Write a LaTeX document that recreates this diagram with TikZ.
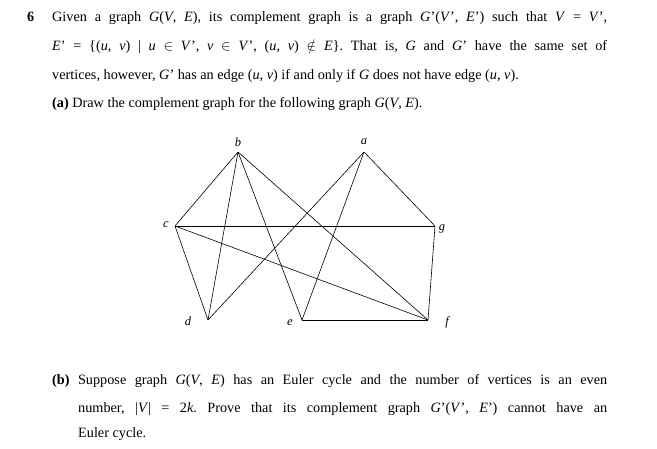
\documentclass[tikz,border=0pt]{standalone}
\usepackage{fontspec}
\setmainfont{Liberation Serif}
\frenchspacing
\begin{document}
\begin{tikzpicture}[x=1bp, y=-1bp, font=\fontsize{14.3}{17}\selectfont,
    vtx/.style={inner sep=0pt, minimum size=0pt},
    lbl/.style={font=\fontsize{12.5}{14}\selectfont\itshape, inner sep=0pt},
    txt/.style={anchor=base west, inner sep=0pt},
    edge/.style={draw, line width=0.6pt}]

    \useasboundingbox (0,0) rectangle (657,449);

    % Question text
    \node[txt] (q0) at (27,22) {\textbf{6}};
    \node[txt] (q1) at (52,22) {\hbox to 555bp{Given a graph \textit{G}(\textit{V}, \textit{E}), its complement graph is a graph \textit{G}'(\textit{V}', \textit{E}') such that \textit{V} = \textit{V}',}};
    \node[txt] (q2) at (52,51) {\hbox to 555bp{\textit{E}' = \{(\textit{u}, \textit{v}) | \textit{u} $\in$ \textit{V}', \textit{v} $\in$ \textit{V}', (\textit{u}, \textit{v}) $\notin$ \textit{E}\}. That is, \textit{G} and \textit{G}' have the same set of}};
    \node[txt] (q3) at (52,80) {vertices, however, \textit{G}' has an edge (\textit{u}, \textit{v}) if and only if \textit{G} does not have edge (\textit{u}, \textit{v}).};
    \node[txt] (q4) at (52,108) {\textbf{(a)} Draw the complement graph for the following graph \textit{G}(\textit{V}, \textit{E}).};

    % Vertices
    \node[vtx] (b) at (238,152) {};
    \node[vtx] (a) at (364,152) {};
    \node[vtx] (c) at (175,226) {};
    \node[vtx] (g) at (435,226) {};
    \node[vtx] (d) at (208,320) {};
    \node[vtx] (e) at (302,320) {};
    \node[vtx] (f) at (428,320) {};

    \node[lbl] (lb) at (238,142) {b};
    \node[lbl] (la) at (364,142) {a};
    \node[lbl] (lc) at (166,225) {c};
    \node[lbl] (lg) at (442,229) {g};
    \node[lbl] (ld) at (188,321) {d};
    \node[lbl] (le) at (290,323) {e};
    \node[lbl] (lf) at (447,322) {f};

    % Edges
    \foreach \u/\v in {b/c, b/d, b/e, b/f, a/d, a/e, a/g, c/g, c/d, c/f, e/f, g/f}
        \path[edge] (\u) -- (\v);

    % Part (b)
    \node[txt] (p1) at (52,384) {\hbox to 555bp{\textbf{(b)} Suppose graph \textit{G}(\textit{V}, \textit{E}) has an Euler cycle and the number of vertices is an even}};
    \node[txt] (p2) at (78,412) {\hbox to 529bp{number, |\textit{V}| = 2\textit{k}. Prove that its complement graph \textit{G}'(\textit{V}', \textit{E}') cannot have an}};
    \node[txt] (p3) at (78,437) {Euler cycle.};
\end{tikzpicture}
\end{document}
